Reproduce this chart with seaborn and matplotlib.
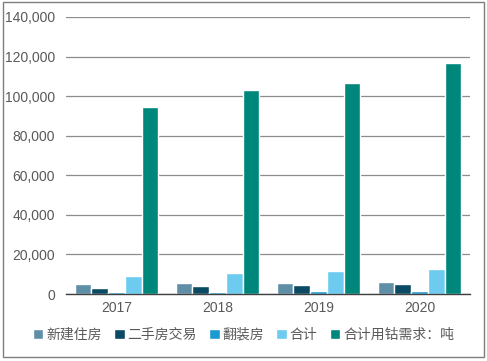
import matplotlib
matplotlib.use("Agg")
import matplotlib.pyplot as plt
import seaborn as sns
import pandas as pd
from matplotlib.ticker import FuncFormatter
from matplotlib.patches import Rectangle

years = ["2017", "2018", "2019", "2020"]
series = ["新建住房", "二手房交易", "翻装房", "合计", "合计用钴需求：吨"]
new_housing = [5000, 5500, 5600, 6000]
second_hand = [3000, 4000, 4500, 5000]
renovation = [1000, 1000, 1500, 1500]
total = [9000, 10500, 11600, 12500]
cobalt_demand = [94500, 103000, 106800, 116800]
colors = ["#5f8fa6", "#0b4a63", "#1a9ad0", "#6ccbee", "#00877c"]

values = [new_housing, second_hand, renovation, total, cobalt_demand]
rows = []
for s, vals in zip(series, values):
    for y, v in zip(years, vals):
        rows.append({"year": y, "series": s, "value": v})
df = pd.DataFrame(rows)

sns.set_theme(style="white")
plt.rcParams['font.family'] = ['Liberation Sans', 'Noto Sans CJK SC', 'DejaVu Sans']

fig = plt.figure(figsize=(4.87, 3.61), dpi=100)
ax = fig.add_axes([66/487, 1-294/361, (470-66)/487, (294-17)/361])

sns.barplot(data=df, x="year", y="value", hue="series", hue_order=series,
            palette=colors, width=0.83, gap=0, ax=ax, saturation=1,
            errorbar=None, legend=True)

ax.set_ylim(0, 140000)
ax.set_yticks(range(0, 140001, 20000))
ax.yaxis.set_major_formatter(FuncFormatter(lambda v, p: f"{int(v):,}"))
ax.grid(axis="y", color="#8c8c8c", linewidth=0.9)
ax.set_axisbelow(True)
for side in ["top", "right", "left"]:
    ax.spines[side].set_visible(False)
ax.spines["bottom"].set_color("#404040")
ax.spines["bottom"].set_linewidth(1.0)
ax.tick_params(axis="both", length=0, labelsize=10, labelcolor="#595959")
ax.tick_params(axis="y", pad=8)
ax.tick_params(axis="x", pad=5)
ax.set_xlabel("")
ax.set_ylabel("")

handles, labels = ax.get_legend_handles_labels()
ax.legend_.remove()
fig.legend(handles, labels, loc="center", bbox_to_anchor=(0.5, 1-335/361),
           ncol=5, frameon=False, handlelength=0.75, handleheight=0.75,
           handletextpad=0.2, columnspacing=0.9,
           prop={"family": ["Noto Sans CJK SC"], "size": 10}, labelcolor="#595959")

fig.patches.append(Rectangle((3/487, 1-357/361), 481/487, 355/361,
                             transform=fig.transFigure, fill=False,
                             edgecolor="#7f7f7f", linewidth=1.0))

fig.savefig("out.png", dpi=100)
